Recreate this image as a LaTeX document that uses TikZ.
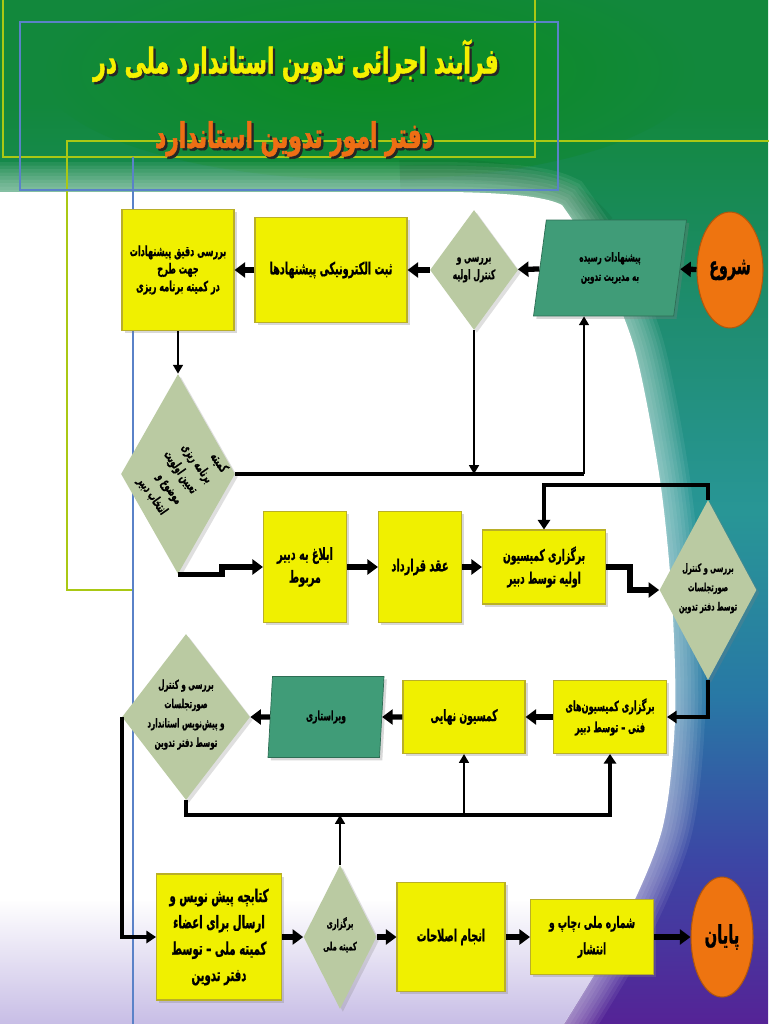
\documentclass[tikz,border=0pt]{standalone}
\usepackage{fontspec}
\usepackage{graphicx}
\usetikzlibrary{positioning,shapes.geometric,arrows.meta,shadows,fadings}
\TeXXeTstate=1
\newfontfamily\arabicfont[Script=Arabic,FakeStretch=0.58,BoldFeatures={FakeBold=0.8}]{DejaVu Sans}
\newfontfamily\titlefont[Script=Arabic,FakeStretch=0.62,BoldFeatures={FakeBold=1.5}]{DejaVu Sans}
\newcommand\rtl[1]{\beginR#1\endR}
\newcommand\fafont[2]{\arabicfont\bfseries\fontsize{#1}{#2}\selectfont}
\newcommand\dtxt[1]{\smash{\makebox[0pt]{\begin{tabular}{@{}c@{}}#1\end{tabular}}}}
\newcommand\rdtxt[1]{\smash{\makebox[0pt]{\begin{tabular}{@{}r@{}}#1\end{tabular}}}}
\newcommand\shtxt[1]{\makebox[0pt][l]{\kern1.3pt\raisebox{-1.3pt}{\textcolor{black!85}{\rtl{#1}}}}\rtl{#1}}

\definecolor{bggreen}{RGB}{18,136,60}
\definecolor{bgtealg}{RGB}{30,140,110}
\definecolor{bgteal}{RGB}{40,150,150}
\definecolor{bgtealb}{RGB}{40,120,165}
\definecolor{bgblue}{RGB}{60,70,165}
\definecolor{bgpurple}{RGB}{85,35,150}
\definecolor{lavtint}{RGB}{200,190,230}
\definecolor{boxyel}{RGB}{240,240,0}
\definecolor{boxedge}{RGB}{185,175,40}
\definecolor{dmdgrn}{RGB}{186,202,162}
\definecolor{parteal}{RGB}{64,156,120}
\definecolor{ovalor}{RGB}{238,116,16}
\definecolor{ttlyel}{RGB}{245,240,0}
\definecolor{ttlorg}{RGB}{238,110,20}
\definecolor{frmlime}{RGB}{170,200,20}
\definecolor{frmblue}{RGB}{90,130,200}
\pgfdeclareverticalshading{slidebg}{100bp}{color(0bp)=(bgpurple); color(25bp)=(bgpurple); color(33bp)=(bgblue); color(41bp)=(bgtealb); color(50bp)=(bgteal); color(60bp)=(bgtealg); color(70bp)=(bggreen); color(100bp)=(bggreen)}

\begin{document}
\begin{tikzpicture}[x=0.02cm, y=-0.02cm, >={Triangle[length=6pt,width=8.5pt]},
  ybox/.style = {draw=boxedge, line width=0.6pt, fill=boxyel, align=center, inner sep=2pt, drop shadow={shadow xshift=1.6pt, shadow yshift=-1.6pt, opacity=0.3}},
  dmd/.style = {diamond, fill=dmdgrn, inner sep=0pt, drop shadow={shadow xshift=1.6pt, shadow yshift=-1.6pt, opacity=0.25}},
  para/.style = {trapezium, trapezium left angle=70, trapezium right angle=110, trapezium stretches body, fill=parteal, draw=parteal!70!black, line width=0.4pt, align=center, inner sep=1pt, drop shadow={shadow xshift=1.6pt, shadow yshift=-1.6pt, opacity=0.3}},
  oval/.style = {ellipse, fill=ovalor, draw=ovalor!75!black, line width=0.6pt, inner sep=0pt},
  ttl/.style = {font=\titlefont\bfseries\fontsize{20}{24}\selectfont},
  flowarrow/.style = {line width=3pt, ->},
  medarrow/.style = {line width=2.3pt, -{Triangle[length=5.5pt,width=7pt]}},
  feed/.style = {line width=2.3pt},
  thinarrow/.style = {line width=1.6pt, -{Triangle[length=5pt,width=5.5pt]}}]
\useasboundingbox (0,0) rectangle (768,1024);

\shade[shading=slidebg] (0,0) rectangle (768,1024);
\shade[inner color={rgb,255:red,10;green,140;blue,30}, outer color=bggreen] (370,70) ellipse [x radius=330, y radius=110];
\foreach \w in {18,12,6}
  \draw[bggreen!55!black, opacity=0.12, line width=\w pt] (400,176) .. controls (500,172) and (565,182) .. (600,228);
\path[save path=\wpath] (-20,192) -- (450,192) .. controls (520,193) and (548,198) .. (562,205)
  -- plot[smooth] coordinates {(562,205) (600,264) (635,350) (660,480) (672,600) (675,720) (662,830) (620,930) (560,1030)}
  -- (-20,1030) -- cycle;
\foreach \w in {34,30,...,2}
  \draw[white, opacity=0.07, line width=\w pt, use path=\wpath];
\fill[white, use path=\wpath];
\begin{scope}
\clip[use path=\wpath];
\fill[lavtint, path fading=north] (0,900) rectangle (768,1024);
\end{scope}

\draw[frmlime, line width=0.6pt] (3,-5) -- (3,157) -- (535,157) -- (535,-5);
\draw[frmlime, line width=0.6pt] (770,141) -- (67,141) -- (67,590) -- (133,590);
\draw[frmblue, line width=0.6pt] (20,22) rectangle (558,190);
\draw[frmblue, line width=0.6pt] (133,157) -- (133,1030);

\node[ttl, text=ttlyel] (ttlA) at (296,62) {\shtxt{فرآیند اجرائی تدوین استاندارد ملی در}};
\node[ttl, text=ttlorg] (ttlB) at (294,140) {\shtxt{دفتر امور تدوین استاندارد}};

\node[oval, minimum width=1.32cm, minimum height=2.32cm, font=\fafont{14}{16}] (start) at (730,270) {\rtl{شروع}};
\node[para, minimum width=3.06cm, minimum height=1.92cm, font=\fafont{7}{11}] (recv) at (610,268) {\rtl{پیشنهادات رسیده}\\\rtl{به  مدیریت تدوین}};
\node[dmd, minimum width=1.76cm, minimum height=2.4cm, font=\fafont{7.5}{10}] (chk1) at (474,270) {\dtxt{\rtl{بررسی و}\\\rtl{کنترل اولیه}}};
\node[ybox, minimum width=3.04cm, minimum height=2.1cm, font=\fafont{9.5}{12}] (reg) at (331,270) {\rtl{ثبت الکترونیکی پیشنهادها}};
\node[ybox, minimum width=2.24cm, minimum height=2.42cm, font=\fafont{8}{10}] (rev) at (178,270) {\rtl{بررسی دقیق پیشنهادات}\\\rtl{جهت طرح}\\\rtl{در کمیته برنامه ریزی}};
\node[dmd, minimum width=2.28cm, minimum height=4cm, font=\fafont{7.5}{10.5}] (plan) at (178,474) {\rotatebox{-55}{\rdtxt{\rtl{کمیته}\\\rtl{برنامه ریزی}\\\rtl{تعیین اولویت}\\\rtl{موضوع و}\\\rtl{انتخاب دبیر}}}};

\node[ybox, minimum width=1.66cm, minimum height=2.22cm, font=\fafont{9.5}{13}] (notify) at (305,567) {\rtl{ابلاغ به دبیر}\\\rtl{مربوط}};
\node[ybox, minimum width=1.66cm, minimum height=2.22cm, font=\fafont{9.5}{13}] (contract) at (420,567) {\rtl{عقد قرارداد}};
\node[ybox, minimum width=2.46cm, minimum height=1.48cm, font=\fafont{9}{13}] (com1) at (544,567) {\rtl{برگزاری کمیسیون}\\\rtl{اولیه توسط دبیر}};
\node[dmd, minimum width=1.94cm, minimum height=3.6cm, font=\fafont{6.5}{11}] (chk2) at (708,590) {\dtxt{\rtl{بررسی و کنترل}\\\rtl{صورتجلسات}\\\rtl{توسط دفتر تدوین}}};

\node[ybox, minimum width=2.26cm, minimum height=1.46cm, font=\fafont{8}{12}] (tech) at (610,717) {\rtl{برگزاری کمیسیون‌های}\\\rtl{فنی – توسط دبیر}};
\node[ybox, minimum width=2.44cm, minimum height=1.46cm, font=\fafont{9}{12}] (final) at (464,717) {\rtl{کمسیون نهایی}};
\node[para, trapezium left angle=75, trapezium right angle=105, minimum width=2.32cm, minimum height=1.62cm, font=\fafont{7.5}{10}] (edit) at (326,717) {\rtl{ویراستاری}};
\node[dmd, minimum width=2.56cm, minimum height=3.32cm, font=\fafont{7}{11}] (chk3) at (186,717) {\dtxt{\rtl{بررسی و کنترل}\\\rtl{صورتجلسات}\\\rtl{و پیش‌نویس استاندارد}\\\rtl{توسط دفتر تدوین}}};

\node[ybox, minimum width=2.5cm, minimum height=2.52cm, font=\fafont{10}{15}] (book) at (219,937) {\rtl{کتابچه پیش نویس و}\\\rtl{ارسال برای اعضاء}\\\rtl{کمیته ملی – توسط}\\\rtl{دفتر تدوین}};
\node[dmd, minimum width=1.46cm, minimum height=2.88cm, font=\fafont{6.5}{13}] (natl) at (340,937) {\dtxt{\rtl{برگزاری}\\\rtl{کمیته ملی}}};
\node[ybox, minimum width=2.16cm, minimum height=2.18cm, font=\fafont{9.5}{12}] (fix) at (451,937) {\rtl{انجام اصلاحات}};
\node[ybox, minimum width=2.46cm, minimum height=1.5cm, font=\fafont{9}{15}] (pub) at (592,937) {\rtl{شماره ملی ،چاپ و}\\\rtl{انتشار}};
\node[oval, minimum width=1.24cm, minimum height=2.4cm, font=\fafont{14.5}{16}] (stop) at (722,937) {\rtl{پایان}};

\coordinate (j1) at (584,474);
\coordinate (j2) at (340,815);

\draw[flowarrow] (start) -- (recv);
\draw[flowarrow] (recv) -- (chk1);
\draw[flowarrow] (chk1) -- (reg);
\draw[flowarrow] (reg) -- (rev);
\draw[thinarrow] (rev) -- (plan);
\draw[feed] (plan.east) -- (j1);
\draw[thinarrow] (j1) -- (j1 |- recv.south);
\draw[thinarrow] (chk1) -- (chk1 |- j1);

\draw[flowarrow] (plan.south) -- ++(44,0) |- (notify);
\draw[flowarrow] (notify) -- (contract);
\draw[flowarrow] (contract) -- (com1);
\draw[flowarrow] (com1.east) -- ++(24,0) |- (chk2);
\draw[medarrow] (chk2.north) -- ++(0,-15) -| (com1.north);
\draw[medarrow] (chk2.south) |- (tech);

\draw[flowarrow] (tech) -- (final);
\draw[flowarrow] (final) -- (edit);
\draw[flowarrow] (edit) -- (chk3);
\draw[medarrow] (chk3.south) |- (tech.south |- j2) -- (tech.south);
\draw[thinarrow] (final.south |- j2) -- (final.south);
\draw[thinarrow] (natl) -- (j2);
\draw[medarrow] (chk3.west) |- (book);

\draw[flowarrow] (book) -- (natl);
\draw[flowarrow] (natl) -- (fix);
\draw[flowarrow] (fix) -- (pub);
\draw[flowarrow] (pub) -- (stop);

\end{tikzpicture}
\end{document}
